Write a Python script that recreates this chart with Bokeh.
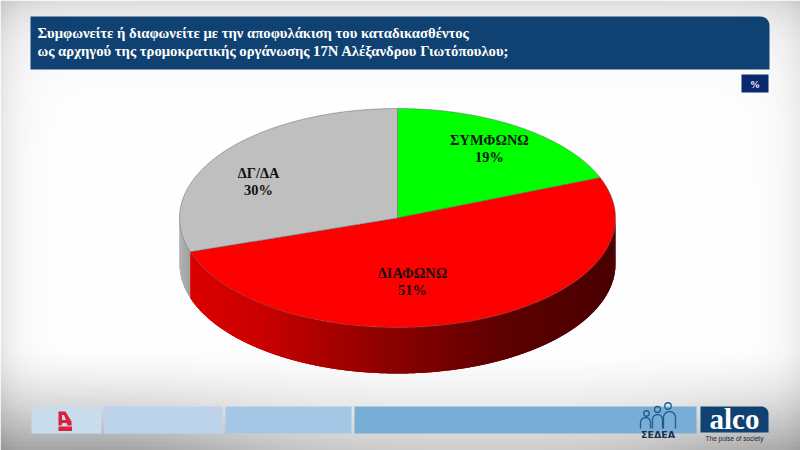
import numpy as np
from bokeh.plotting import figure
from bokeh.models import Range1d
from bokeh.core.properties import value
from bokeh.embed import file_html
from bokeh.resources import INLINE

# ---- chart data ----
categories = ["ΣΥΜΦΩΝΩ", "ΔΙΑΦΩΝΩ", "ΔΓ/ΔΑ"]
shares = [19, 51, 30]
slice_colors = ["#00ff00", "#ff0000", "#bfbfbf"]
title_lines = ["Συμφωνείτε ή διαφωνείτε με την αποφυλάκιση του καταδικασθέντος",
               "ως αρχηγού της τρομοκρατικής οργάνωσης 17Ν Αλέξανδρου Γιωτόπουλου;"]
label_anchor_x = [489, 412, 258]
label_anchor_y = [139, 272, 172]

# ---- pie geometry (page pixels) ----
CX, CY, RX, RY, DEPTH = 397, 217.5, 218, 109.5, 46

# ---- figure: data units are page pixels ----
p = figure(width=800, height=450, output_backend="svg", toolbar_location=None,
           x_range=Range1d(0, 800), y_range=Range1d(450, 0), min_border=0,
           outline_line_color=None)
p.xaxis.visible = False
p.yaxis.visible = False
p.grid.visible = False

# ---- background ----
gx, gy = np.meshgrid(np.linspace(0, 800, 200), np.linspace(0, 450, 113))
bg = (255.0 - 32 * np.exp(-gy / 30) - 22 * np.exp(-gx / 18) - 18 * np.exp(-(800 - gx) / 18)
      - (np.clip((gy - 345) / 105, 0, 1) ** 1.6)
      * (48 + 42 * np.exp(-((gx - 90) / 170) ** 2) + 30 * np.exp(-((gx - 770) / 120) ** 2)))
bg = np.clip(bg, 0, 255).astype(np.uint8)
rgba = np.zeros(bg.shape, dtype=np.uint32)
view = rgba.view(np.uint8).reshape(bg.shape + (4,))
view[..., 0] = view[..., 1] = view[..., 2] = bg
view[..., 3] = 255
p.image_rgba(image=[rgba], x=0, y=0, dw=800, dh=450)


def round_tr(x0, y0, x1, y1, r):
    t = np.linspace(0, np.pi / 2, 10)
    xs = [x0] + list(x1 - r + r * np.sin(t)) + [x1, x0]
    ys = [y0] + list(y0 + r - r * np.cos(t)) + [y1, y1]
    return xs, ys


# ---- header ----
hx, hy = round_tr(30, 16, 769, 69, 9)
p.patch(hx, hy, fill_color="#0f4272", line_color=None)
for line, y in zip(title_lines, [32, 50.5]):
    p.text([37], [y], text=[line], text_color="#ffffff", text_font=value("Liberation Serif"),
           text_font_style="bold", text_font_size="14.7px", text_baseline="middle")
p.quad(left=[741], right=[768], top=[74], bottom=[92], fill_color="#0b2a6e", line_color=None)
p.text([754.5], [83.5], text=["%"], text_color="#ffffff", text_font=value("Liberation Serif"),
       text_font_style="bold", text_font_size="10px", text_align="center", text_baseline="middle")

# ---- pie ----
fractions = np.array(shares, dtype=float) / sum(shares)
edges = np.concatenate([[0], np.cumsum(fractions)]) * 2 * np.pi

# side wall, drawn as overlapping thin strips shaded by horizontal position
shade_x = [179, 190, 255, 393, 510, 615]
shade_r = [220, 220, 204, 138, 92, 74]
grey_x = [179, 190]
grey_v = [178, 160]
for i in range(len(shares)):
    a0, a1 = max(edges[i], np.pi / 2), min(edges[i + 1], 3 * np.pi / 2)
    if a1 <= a0:
        continue
    th = np.linspace(a0, a1, max(int((a1 - a0) * 90), 6))
    step = th[1] - th[0]
    for t0 in th[:-1]:
        t1 = min(t0 + 2.5 * step, a1)
        tt = np.linspace(t0, t1, 4)
        x_top = CX + RX * np.sin(tt)
        y_top = CY - RY * np.cos(tt)
        xs_ = np.concatenate([x_top, x_top[::-1]])
        ys_ = np.concatenate([y_top, y_top[::-1] + DEPTH])
        xm = CX + RX * np.sin(t0 + step / 2)
        if slice_colors[i] == "#ff0000":
            col = "#%02x0000" % int(np.interp(xm, shade_x, shade_r))
        else:
            g = int(np.interp(xm, grey_x, grey_v))
            col = "#%02x%02x%02x" % (g, g, g)
        p.patch(xs_, ys_, fill_color=col, line_color=None)

# top faces
for i, col in enumerate(slice_colors):
    th = np.linspace(edges[i], edges[i + 1], 160)
    xs_ = np.concatenate([[CX], CX + RX * np.sin(th)])
    ys_ = np.concatenate([[CY], CY - RY * np.cos(th)])
    p.patch(xs_, ys_, fill_color=col, line_color="#5a5a5a", line_width=0.6, line_alpha=0.75)

for name, share, lx, ly in zip(categories, shares, label_anchor_x, label_anchor_y):
    p.text([lx], [ly], text=[name], text_color="#111111", text_font=value("Liberation Serif"),
           text_font_style="bold", text_font_size="14.4px", text_align="center", text_baseline="middle")
    p.text([lx], [ly + 17], text=[f"{share}%"], text_color="#111111", text_font=value("Liberation Serif"),
           text_font_style="bold", text_font_size="14.4px", text_align="center", text_baseline="middle")

# ---- footer bands ----
p.quad(left=[31, 103, 225, 354], right=[101, 222, 351, 696], top=[406] * 4, bottom=[433] * 4,
       fill_color=["#c8dcec", "#bdd3ec", "#a3c7e4", "#78add6"], line_color=None)

# Alpha logo
p.patch([58, 65, 71, 71, 67, 66, 62, 61, 58], [411, 411, 421, 425, 425, 422.5, 422.5, 425, 425],
        fill_color="#dc1f3c", line_color=None)
p.patch([61.5, 63.5, 65.5, 61.5], [414.5, 414.5, 419.5, 419.5], fill_color="#c8dcec", line_color=None)
p.quad(left=[58], right=[71.5], top=[426], bottom=[430.5], fill_color="#dc1f3c", line_color=None)

# SEDEA logo
p.scatter([646, 657, 667.5], [413, 409, 405.5], marker="circle", size=[5.5, 6, 6.5],
          fill_color=None, line_color="#1c5d8e", line_width=1.3)
arc = np.linspace(np.pi, 0, 14)
for x0, x1, ytop in [(640, 650, 417), (652, 662, 414), (663, 675, 411)]:
    c, r = (x0 + x1) / 2, (x1 - x0) / 2
    ax = np.concatenate([[x0], c + r * np.cos(arc), [x1]])
    ay = np.concatenate([[428], ytop + r - r * np.sin(arc), [428]])
    p.line(ax, ay, line_color="#1c5d8e", line_width=1.3)
p.text([657.5], [433.5], text=["ΣΕΔΕΑ"], text_color="#17324f", text_font=value("DejaVu Sans"),
       text_font_style="bold", text_font_size="9.5px", text_align="center", text_baseline="middle")

# alco logo
ax_, ay_ = round_tr(700, 406, 768, 432, 7)
p.patch(ax_, ay_, fill_color="#0f4272", line_color=None)
p.text([734], [418.5], text=["alco"], text_color="#ffffff", text_font=value("Liberation Serif"),
       text_font_style="bold", text_font_size="29px", text_align="center", text_baseline="middle")
p.text([734], [437.5], text=["The pulse of society"], text_color="#222222", text_font=value("Liberation Sans"),
       text_font_size="6.5px", text_align="center", text_baseline="middle")

open("out.html", "w").write(file_html(p, INLINE))
